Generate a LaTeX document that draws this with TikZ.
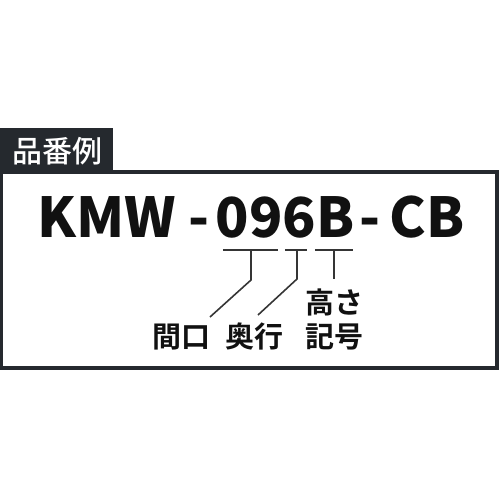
\documentclass[tikz,border=0pt]{standalone}
\usepackage{fontspec}
\setmainfont{Noto Sans CJK JP}
\newfontfamily\cjkbold{Noto Sans CJK JP Black}
\newfontfamily\cjkmed{Noto Sans CJK JP Medium}
\newfontfamily\cjklbl{Noto Sans CJK JP Bold}
\definecolor{frameC}{HTML}{25292E}
\definecolor{inkC}{HTML}{111111}
\tikzset{
  lbl/.style={inner sep=0pt, font=\cjklbl\fontsize{14.5pt}{16pt}\selectfont, text=inkC},
  code/.style={inner sep=0pt, font=\cjkbold\fontsize{27.5pt}{30pt}\selectfont, text=inkC, anchor=base},
  brk/.style={line width=0.8pt, draw=inkC!85}
}
\begin{document}
\begin{tikzpicture}[x=0.5pt,y=-0.5pt]
\useasboundingbox (0,0) rectangle (500,500);
% tab
\fill[frameC] (0,128) rectangle (113,173) coordinate (tabse);
\node[inner sep=0pt, text=white, font=\cjkmed\fontsize{15pt}{16pt}\selectfont] (tab) at (57.5,151.5) {品番例};
% frame
\draw[frameC, line width=1.6pt] (1.6,172) rectangle (497,368);
% code text
\node[code] (kmw) at (106.5,237) {KMW};
\node[code] (d1) at (199,237) {-};
\node[code] (num) at (285,237) {096B};
\node[code] (d2) at (370,237) {-};
\node[code] (cb) at (427,237) {CB};
% brackets
\coordinate (b1l) at (223,250); \coordinate (b1r) at (278,250);
\coordinate (b2l) at (285,250); \coordinate (b2r) at (307,250);
\coordinate (b3l) at (315,250); \coordinate (b3r) at (353,250);
\coordinate (t1) at (251,250); \coordinate (t1e) at (251,280);
\coordinate (t2) at (297,250); \coordinate (t2e) at (297,279);
\coordinate (t3) at (334,250); \coordinate (t3e) at (334,279);
\coordinate (e1) at (210,317); \coordinate (e2) at (258,315);
\draw[brk] (b1l) -- (b1r);
\draw[brk] (b2l) -- (b2r);
\draw[brk] (b3l) -- (b3r);
\draw[brk] (t1) -- (t1e) -- (e1);
\draw[brk] (t2) -- (t2e) -- (e2);
\draw[brk] (t3) -- (t3e);
% labels
\node[lbl] (maguchi) at (181.5,337) {間口};
\node[lbl] (okuyuki) at (254.5,337) {奥行};
\node[lbl] (takasa) at (335,302) {高さ};
\node[lbl] (kigou) at (335,337) {記号};
\end{tikzpicture}
\end{document}
